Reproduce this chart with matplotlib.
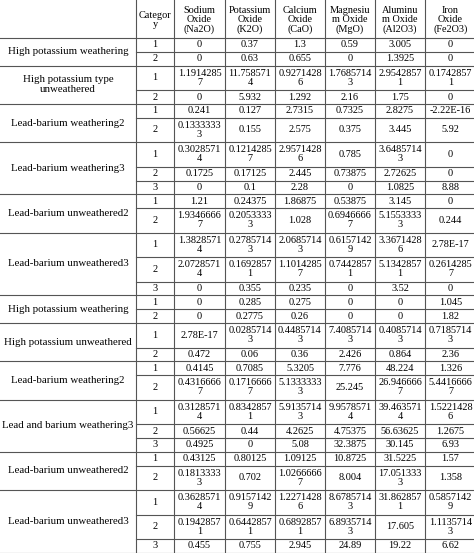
import matplotlib
matplotlib.use("Agg")
import matplotlib.pyplot as plt

plt.rcParams["font.family"] = ["Liberation Serif", "DejaVu Serif"]

headers = ["Categor\ny", "Sodium\nOxide\n(Na2O)", "Potassium\nOxide\n(K2O)", "Calcium\nOxide\n(CaO)",
           "Magnesiu\nm Oxide\n(MgO)", "Aluminu\nm Oxide\n(Al2O3)", "Iron\nOxide\n(Fe2O3)"]

groups = ["High potassium weathering", "High potassium type\nunweathered", "Lead-barium weathering2",
          "Lead-barium weathering3", "Lead-barium unweathered2", "Lead-barium unweathered3",
          "High potassium weathering", "High potassium unweathered", "Lead-barium weathering2",
          "Lead and barium weathering3", "Lead-barium unweathered2", "Lead-barium unweathered3"]

categories = [[1, 2], [1, 2], [1, 2], [1, 2, 3], [1, 2], [1, 2, 3],
              [1, 2], [1, 2], [1, 2], [1, 2, 3], [1, 2], [1, 2, 3]]

values = [
    [["0", "0.37", "1.3", "0.59", "3.005", "0"],
     ["0", "0.63", "0.655", "0", "1.3925", "0"]],
    [["1.19142857", "11.7585714", "0.92714286", "1.76857143", "2.95428571", "0.17428571"],
     ["0", "5.932", "1.292", "2.16", "1.75", "0"]],
    [["0.241", "0.127", "2.7315", "0.7325", "2.8275", "-2.22E-16"],
     ["0.13333333", "0.155", "2.575", "0.375", "3.445", "5.92"]],
    [["0.30285714", "0.12142857", "2.95714286", "0.785", "3.64857143", "0"],
     ["0.1725", "0.17125", "2.445", "0.73875", "2.72625", "0"],
     ["0", "0.1", "2.28", "0", "1.0825", "8.88"]],
    [["1.21", "0.24375", "1.86875", "0.53875", "3.145", "0"],
     ["1.93466667", "0.20533333", "1.028", "0.69466667", "5.15533333", "0.244"]],
    [["1.38285714", "0.27857143", "2.06857143", "0.61571429", "3.36714286", "2.78E-17"],
     ["2.07285714", "0.16928571", "1.10142857", "0.74428571", "5.13428571", "0.26142857"],
     ["0", "0.355", "0.235", "0", "3.52", "0"]],
    [["0", "0.285", "0.275", "0", "0", "1.045"],
     ["0", "0.2775", "0.26", "0", "0", "1.82"]],
    [["2.78E-17", "0.02857143", "0.44857143", "7.40857143", "0.40857143", "0.71857143"],
     ["0.472", "0.06", "0.36", "2.426", "0.864", "2.36"]],
    [["0.4145", "0.7085", "5.3205", "7.776", "48.224", "1.326"],
     ["0.43166667", "0.17166667", "5.13333333", "25.245", "26.9466667", "5.44166667"]],
    [["0.31285714", "0.83428571", "5.91357143", "9.95785714", "39.4635714", "1.52214286"],
     ["0.56625", "0.44", "4.2625", "4.75375", "56.63625", "1.2675"],
     ["0.4925", "0", "5.08", "32.3875", "30.145", "6.93"]],
    [["0.43125", "0.80125", "1.09125", "10.8725", "31.5225", "1.57"],
     ["0.18133333", "0.702", "1.02666667", "8.004", "17.0513333", "1.358"]],
    [["0.36285714", "0.91571429", "1.22714286", "8.67857143", "31.8628571", "0.58571429"],
     ["0.19428571", "0.64428571", "0.68928571", "6.89357143", "17.605", "1.11357143"],
     ["0.455", "0.755", "2.945", "24.89", "19.22", "6.62"]],
]

col_x = [0, 136, 174, 225, 275, 325, 375, 425, 476]
header_h = 38
single_h = 13.8
double_h = 24.5
fs = 7.4
lc = "#555555"


def wrap(s):
    return s[:9] + "\n" + s[9:] if len(s) > 9 else s


fig = plt.figure(figsize=(4.74, 5.53), dpi=100)
ax = fig.add_axes([0, 0, 1, 1])
ax.set_xlim(0, 474)
ax.set_ylim(553, 0)
ax.axis("off")

# header
for i, h in enumerate(headers):
    cx = (col_x[i + 1] + col_x[i + 2]) / 2
    ax.text(cx, header_h / 2 + 1, h, ha="center", va="center", fontsize=fs, linespacing=1.05)
for x in col_x[1:]:
    ax.plot([x, x], [0, 553], color=lc, lw=0.8)
ax.plot([0, 474], [header_h, header_h], color=lc, lw=0.8)

y = header_h
for g, name in enumerate(groups):
    y0 = y
    for r, cat in enumerate(categories[g]):
        row = values[g][r]
        h = double_h if any(len(v) > 9 for v in row) else single_h
        cy = y + h / 2
        ax.text((col_x[1] + col_x[2]) / 2, cy, str(cat), ha="center", va="center", fontsize=fs)
        for j, v in enumerate(row):
            cx = (col_x[j + 2] + col_x[j + 3]) / 2
            ax.text(cx, cy, wrap(v), ha="center", va="center", fontsize=fs, linespacing=1.0,
                    clip_on=True)
        y += h
        if r < len(categories[g]) - 1:
            ax.plot([col_x[1], 474], [y, y], color=lc, lw=0.8)
    ax.plot([0, 474], [y, y], color=lc, lw=0.8)
    ax.text(68, (y0 + y) / 2, name, ha="center", va="center", fontsize=fs + 0.4,
            linespacing=1.1)

fig.savefig("out.png", dpi=100)
